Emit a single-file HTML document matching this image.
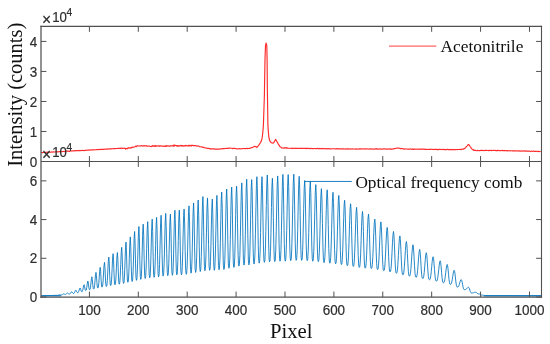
<!DOCTYPE html>
<html><head><meta charset="utf-8"><title>Spectra</title>
<style>
html,body{margin:0;padding:0;background:#fff;}
svg{display:block}
.s{font-family:"Liberation Sans",sans-serif;font-size:13.9px;fill:#2e2e2e;stroke:#2e2e2e;stroke-width:0.2px}
.t{font-family:"Liberation Serif",serif;fill:#111}
</style></head><body>
<svg width="550" height="344" viewBox="0 0 550 344">
<rect width="550" height="344" fill="#fff"/>
<path d="M41.00,152.38 L41.49,152.51 L41.98,152.53 L42.47,152.74 L42.96,152.52 L43.44,152.51 L43.93,152.45 L44.42,152.49 L44.91,152.39 L45.40,152.42 L45.89,152.49 L46.38,152.20 L46.87,152.18 L47.36,152.05 L47.85,152.23 L48.33,152.26 L48.82,152.25 L49.31,152.34 L49.80,152.01 L50.29,152.24 L50.78,152.22 L51.27,152.08 L51.76,151.85 L52.25,151.98 L52.74,152.10 L53.22,152.04 L53.71,151.85 L54.20,151.92 L54.69,151.97 L55.18,151.88 L55.67,151.74 L56.16,151.56 L56.65,151.92 L57.14,151.82 L57.63,151.82 L58.11,151.99 L58.60,151.78 L59.09,151.77 L59.58,151.49 L60.07,151.61 L60.56,151.77 L61.05,151.47 L61.54,151.56 L62.03,151.70 L62.52,151.54 L63.00,151.52 L63.49,151.52 L63.98,151.39 L64.47,151.64 L64.96,151.38 L65.45,151.20 L65.94,151.19 L66.43,151.13 L66.92,151.11 L67.41,151.04 L67.89,151.33 L68.38,151.06 L68.87,151.36 L69.36,151.19 L69.85,151.32 L70.34,150.94 L70.83,150.88 L71.32,151.04 L71.81,150.78 L72.30,151.04 L72.78,150.92 L73.27,150.90 L73.76,151.02 L74.25,150.81 L74.74,150.60 L75.23,150.94 L75.72,150.68 L76.21,150.78 L76.70,150.52 L77.19,150.65 L77.67,150.60 L78.16,150.58 L78.65,150.61 L79.14,150.78 L79.63,150.42 L80.12,150.72 L80.61,150.51 L81.10,150.44 L81.59,150.58 L82.08,150.44 L82.56,150.29 L83.05,150.41 L83.54,150.49 L84.03,150.71 L84.52,150.45 L85.01,150.38 L85.50,150.34 L85.99,150.37 L86.48,150.19 L86.97,150.27 L87.45,150.19 L87.94,150.07 L88.43,150.23 L88.92,150.14 L89.41,149.82 L89.90,149.94 L90.39,150.18 L90.88,150.00 L91.37,149.90 L91.86,149.79 L92.34,149.89 L92.83,149.94 L93.32,149.94 L93.81,149.75 L94.30,149.76 L94.79,149.83 L95.28,149.76 L95.77,149.76 L96.26,149.60 L96.75,149.74 L97.23,149.57 L97.72,149.50 L98.21,149.52 L98.70,149.65 L99.19,149.36 L99.68,149.57 L100.17,149.41 L100.66,149.52 L101.15,149.62 L101.64,149.35 L102.12,149.32 L102.61,149.33 L103.10,149.26 L103.59,149.34 L104.08,149.33 L104.57,149.23 L105.06,148.95 L105.55,149.06 L106.04,149.19 L106.53,149.03 L107.01,149.13 L107.50,149.10 L107.99,148.91 L108.48,149.05 L108.97,149.16 L109.46,149.04 L109.95,148.89 L110.44,148.86 L110.93,148.70 L111.42,148.90 L111.90,148.70 L112.39,148.71 L112.88,148.74 L113.37,148.60 L113.86,148.61 L114.35,148.74 L114.84,148.48 L115.33,148.73 L115.82,148.54 L116.31,148.52 L116.79,148.44 L117.28,148.55 L117.77,148.44 L118.26,148.42 L118.75,148.26 L119.24,148.44 L119.73,148.31 L120.22,148.33 L120.71,148.46 L121.20,147.98 L121.68,148.31 L122.17,148.48 L122.66,148.13 L123.15,148.43 L123.64,148.26 L124.13,148.20 L124.62,148.38 L125.11,148.18 L125.60,149.13 L126.09,148.66 L126.57,148.58 L127.06,148.88 L127.55,148.08 L128.04,147.94 L128.53,148.17 L129.02,147.71 L129.51,148.13 L130.00,148.04 L130.49,147.78 L130.98,148.22 L131.46,147.36 L131.95,147.69 L132.44,147.01 L132.93,147.13 L133.42,147.04 L133.91,147.21 L134.40,147.06 L134.89,146.80 L135.38,146.47 L135.87,146.05 L136.35,146.54 L136.84,145.99 L137.33,145.84 L137.82,145.75 L138.31,146.00 L138.80,146.04 L139.29,146.04 L139.78,145.93 L140.27,145.82 L140.76,146.01 L141.24,145.85 L141.73,145.63 L142.22,145.98 L142.71,146.06 L143.20,145.85 L143.69,145.88 L144.18,145.61 L144.67,145.89 L145.16,145.85 L145.65,146.00 L146.13,145.90 L146.62,145.86 L147.11,146.44 L147.60,145.99 L148.09,145.98 L148.58,145.98 L149.07,146.14 L149.56,146.13 L150.05,146.30 L150.54,146.45 L151.02,146.58 L151.51,146.46 L152.00,145.70 L152.49,145.61 L152.98,146.41 L153.47,145.82 L153.96,145.74 L154.45,146.23 L154.94,146.55 L155.43,145.46 L155.91,146.20 L156.40,146.21 L156.89,145.80 L157.38,146.03 L157.87,146.12 L158.36,145.82 L158.85,145.92 L159.34,146.30 L159.83,145.93 L160.32,146.06 L160.80,145.78 L161.29,146.00 L161.78,146.09 L162.27,146.01 L162.76,146.20 L163.25,145.98 L163.74,146.41 L164.23,146.09 L164.72,146.01 L165.21,146.50 L165.69,145.94 L166.18,146.49 L166.67,145.60 L167.16,145.90 L167.65,145.98 L168.14,145.71 L168.63,145.91 L169.12,146.34 L169.61,146.23 L170.10,145.88 L170.58,145.68 L171.07,145.94 L171.56,145.80 L172.05,146.05 L172.54,145.96 L173.03,145.45 L173.52,146.22 L174.01,144.86 L174.50,145.94 L174.99,145.50 L175.47,145.41 L175.96,145.54 L176.45,146.00 L176.94,145.66 L177.43,145.58 L177.92,146.42 L178.41,145.70 L178.90,145.82 L179.39,146.05 L179.88,145.52 L180.36,145.44 L180.85,145.65 L181.34,145.88 L181.83,145.42 L182.32,146.06 L182.81,145.70 L183.30,146.12 L183.79,145.72 L184.28,145.91 L184.77,145.66 L185.25,146.03 L185.74,145.28 L186.23,145.58 L186.72,145.55 L187.21,145.90 L187.70,146.01 L188.19,146.10 L188.68,145.38 L189.17,145.25 L189.66,146.01 L190.14,145.33 L190.63,145.68 L191.12,146.10 L191.61,145.42 L192.10,145.09 L192.59,145.57 L193.08,145.76 L193.57,145.41 L194.06,145.73 L194.55,145.62 L195.03,145.76 L195.52,145.49 L196.01,145.93 L196.50,145.98 L196.99,145.84 L197.48,146.26 L197.97,145.97 L198.46,146.05 L198.95,146.10 L199.44,146.71 L199.92,146.80 L200.41,146.74 L200.90,146.72 L201.39,146.94 L201.88,146.98 L202.37,147.07 L202.86,147.46 L203.35,147.35 L203.84,147.26 L204.33,147.67 L204.81,147.95 L205.30,147.84 L205.79,147.97 L206.28,147.97 L206.77,148.23 L207.26,148.22 L207.75,148.60 L208.24,148.33 L208.73,148.35 L209.22,148.46 L209.70,148.83 L210.19,148.64 L210.68,149.07 L211.17,148.71 L211.66,148.79 L212.15,148.93 L212.64,148.80 L213.13,148.86 L213.62,148.80 L214.11,148.93 L214.59,148.94 L215.08,149.24 L215.57,149.18 L216.06,149.13 L216.55,149.07 L217.04,149.14 L217.53,148.99 L218.02,149.30 L218.51,149.18 L219.00,149.07 L219.48,149.07 L219.97,148.93 L220.46,149.01 L220.95,148.72 L221.44,148.88 L221.93,148.66 L222.42,148.74 L222.91,148.51 L223.40,148.80 L223.89,148.52 L224.37,148.59 L224.86,148.46 L225.35,148.29 L225.84,148.52 L226.33,148.49 L226.82,148.40 L227.31,148.20 L227.80,148.40 L228.29,148.11 L228.78,148.23 L229.26,148.16 L229.75,148.07 L230.24,148.03 L230.73,148.21 L231.22,148.24 L231.71,148.24 L232.20,148.32 L232.69,148.66 L233.18,148.44 L233.67,148.43 L234.15,148.36 L234.64,148.30 L235.13,148.52 L235.62,148.64 L236.11,148.82 L236.60,148.74 L237.09,148.71 L237.58,148.70 L238.07,149.00 L238.56,148.84 L239.04,148.75 L239.53,148.60 L240.02,148.77 L240.51,148.84 L241.00,148.83 L241.49,148.77 L241.98,148.78 L242.47,148.58 L242.96,148.52 L243.45,148.54 L243.93,148.46 L244.42,148.63 L244.91,148.51 L245.40,148.58 L245.89,148.50 L246.38,148.33 L246.87,148.46 L247.36,148.66 L247.85,148.44 L248.34,148.47 L248.82,148.54 L249.31,148.43 L249.80,148.19 L250.29,148.00 L250.78,148.09 L251.27,147.75 L251.76,147.56 L252.25,147.66 L252.74,147.24 L253.23,146.95 L253.71,146.64 L254.20,146.56 L254.69,146.34 L255.18,146.41 L255.67,146.63 L256.16,146.81 L256.65,147.32 L257.14,147.12 L257.63,146.55 L258.00,146.12 L258.10,146.00 L258.20,145.88 L258.30,145.77 L258.40,145.65 L258.50,145.53 L258.60,145.42 L258.70,145.30 L258.80,145.15 L258.90,145.00 L259.00,144.85 L259.10,144.70 L259.20,144.55 L259.30,144.40 L259.40,144.25 L259.50,144.10 L259.60,143.95 L259.70,143.80 L259.80,143.65 L259.90,143.50 L260.00,143.35 L260.10,143.20 L260.20,143.05 L260.30,142.90 L260.40,142.75 L260.50,142.60 L260.60,142.45 L260.70,142.30 L260.80,142.15 L260.90,142.00 L261.00,141.70 L261.10,141.40 L261.20,141.10 L261.30,140.80 L261.40,140.50 L261.50,140.20 L261.60,139.90 L261.70,139.60 L261.80,139.30 L261.90,139.00 L262.00,138.70 L262.10,138.00 L262.20,137.30 L262.30,136.60 L262.40,135.90 L262.50,135.20 L262.60,134.50 L262.70,133.45 L262.80,132.40 L262.90,131.35 L263.00,130.30 L263.10,128.95 L263.20,127.60 L263.30,126.25 L263.40,124.90 L263.50,121.96 L263.60,119.02 L263.70,116.08 L263.80,113.14 L263.90,110.20 L264.00,107.20 L264.10,104.20 L264.20,101.20 L264.30,98.20 L264.40,95.20 L264.50,88.40 L264.60,82.13 L264.70,76.40 L264.80,70.67 L264.90,64.93 L265.00,59.20 L265.10,56.50 L265.20,53.80 L265.30,51.10 L265.40,48.40 L265.50,45.70 L265.60,45.25 L265.70,44.80 L265.80,44.35 L265.90,43.90 L266.00,43.45 L266.10,43.00 L266.20,43.39 L266.30,43.77 L266.40,44.16 L266.50,44.54 L266.60,44.93 L266.70,45.31 L266.80,45.70 L266.90,50.20 L267.00,54.70 L267.10,59.20 L267.20,72.10 L267.30,85.00 L267.40,91.80 L267.50,98.20 L267.60,104.20 L267.70,110.20 L267.80,117.55 L267.90,124.90 L268.00,126.40 L268.10,127.90 L268.20,129.40 L268.30,130.90 L268.40,132.04 L268.50,133.18 L268.60,134.32 L268.70,135.46 L268.80,136.60 L268.90,137.09 L269.00,137.58 L269.10,138.06 L269.20,138.55 L269.30,139.04 L269.40,139.53 L269.50,140.01 L269.60,140.50 L269.70,140.64 L269.80,140.78 L269.90,140.92 L270.00,141.06 L270.10,141.20 L270.20,141.34 L270.30,141.48 L270.40,141.62 L270.50,141.76 L270.60,141.90 L270.70,142.04 L270.80,142.18 L270.90,142.32 L271.00,142.46 L271.10,142.60 L271.20,142.63 L271.30,142.66 L271.40,142.69 L271.50,142.72 L271.60,142.75 L271.70,142.78 L271.80,142.81 L271.90,142.84 L272.00,142.87 L272.10,142.90 L272.20,142.93 L272.30,142.96 L272.40,142.99 L272.50,143.02 L272.60,143.05 L272.70,143.08 L272.80,143.11 L272.90,143.14 L273.00,143.17 L273.10,143.20 L273.20,143.08 L273.30,142.97 L273.40,142.85 L273.50,142.74 L273.60,142.62 L273.70,142.51 L273.80,142.39 L273.90,142.28 L274.00,142.16 L274.10,142.05 L274.20,141.93 L274.30,141.82 L274.40,141.70 L274.50,141.50 L274.60,141.30 L274.70,141.10 L274.80,140.90 L274.90,140.70 L275.00,140.50 L275.10,140.30 L275.20,140.10 L275.30,139.90 L275.40,139.70 L275.50,139.50 L275.60,139.30 L275.70,139.47 L275.80,139.63 L275.90,139.80 L276.00,139.97 L276.10,140.13 L276.20,140.30 L276.30,140.47 L276.40,140.63 L276.50,140.80 L276.60,140.98 L276.70,141.16 L276.80,141.34 L276.90,141.52 L277.00,141.70 L277.10,141.88 L277.20,142.06 L277.30,142.24 L277.40,142.42 L277.50,142.60 L277.60,142.78 L277.70,142.96 L277.80,143.14 L277.90,143.32 L278.00,143.50 L278.10,143.67 L278.20,143.83 L278.30,144.00 L278.40,144.17 L278.50,144.33 L278.60,144.50 L278.70,144.67 L278.80,144.83 L278.90,145.00 L279.00,145.17 L279.10,145.33 L279.20,145.50 L279.30,145.67 L279.40,145.83 L279.50,146.00 L279.60,146.17 L279.70,146.33 L279.80,146.50 L279.90,146.57 L280.00,146.64 L280.12,146.72 L280.61,147.05 L281.10,147.26 L281.59,147.94 L282.08,147.96 L282.57,148.03 L283.05,148.08 L283.54,148.11 L284.03,147.83 L284.52,148.18 L285.01,147.94 L285.50,147.86 L285.99,147.70 L286.48,148.18 L286.97,147.79 L287.46,148.12 L287.94,148.36 L288.43,148.27 L288.92,148.21 L289.41,148.22 L289.90,148.30 L290.39,148.20 L290.88,148.30 L291.37,148.31 L291.86,148.56 L292.35,148.24 L292.83,148.18 L293.32,148.35 L293.81,148.53 L294.30,148.46 L294.79,148.10 L295.28,148.37 L295.77,148.38 L296.26,148.40 L296.75,148.23 L297.24,148.39 L297.72,148.43 L298.21,148.51 L298.70,148.35 L299.19,148.22 L299.68,148.36 L300.17,148.25 L300.66,148.34 L301.15,148.35 L301.64,148.35 L302.13,148.37 L302.61,148.26 L303.10,148.33 L303.59,148.46 L304.08,148.39 L304.57,148.42 L305.06,148.36 L305.55,148.40 L306.04,148.38 L306.53,148.61 L307.02,148.39 L307.50,148.29 L307.99,148.61 L308.48,148.26 L308.97,148.43 L309.46,148.49 L309.95,148.69 L310.44,148.35 L310.93,148.60 L311.42,148.55 L311.91,148.43 L312.39,148.63 L312.88,148.63 L313.37,148.66 L313.86,148.54 L314.35,148.46 L314.84,148.49 L315.33,148.49 L315.82,148.59 L316.31,148.54 L316.80,148.64 L317.28,148.33 L317.77,148.55 L318.26,148.81 L318.75,148.71 L319.24,148.40 L319.73,148.76 L320.22,148.66 L320.71,148.56 L321.20,148.75 L321.69,148.50 L322.17,148.43 L322.66,148.74 L323.15,148.51 L323.64,148.76 L324.13,148.78 L324.62,148.64 L325.11,148.65 L325.60,148.76 L326.09,148.59 L326.58,148.87 L327.06,148.81 L327.55,148.84 L328.04,148.63 L328.53,148.63 L329.02,148.66 L329.51,148.90 L330.00,148.73 L330.49,148.70 L330.98,148.96 L331.47,148.87 L331.95,148.70 L332.44,148.70 L332.93,148.76 L333.42,148.74 L333.91,148.77 L334.40,148.80 L334.89,148.84 L335.38,148.94 L335.87,148.87 L336.36,148.89 L336.84,148.57 L337.33,148.83 L337.82,148.87 L338.31,148.90 L338.80,148.90 L339.29,148.92 L339.78,148.83 L340.27,148.90 L340.76,148.80 L341.25,148.99 L341.73,148.86 L342.22,148.80 L342.71,149.05 L343.20,148.89 L343.69,148.88 L344.18,148.95 L344.67,148.97 L345.16,149.14 L345.65,148.78 L346.14,149.03 L346.62,149.07 L347.11,148.84 L347.60,149.14 L348.09,148.81 L348.58,148.87 L349.07,148.85 L349.56,148.95 L350.05,149.08 L350.54,149.16 L351.03,148.76 L351.51,148.99 L352.00,149.00 L352.49,148.75 L352.98,149.01 L353.47,148.97 L353.96,148.97 L354.45,148.96 L354.94,149.07 L355.43,149.01 L355.92,148.79 L356.40,148.86 L356.89,149.31 L357.38,149.19 L357.87,148.91 L358.36,148.97 L358.85,149.00 L359.34,148.83 L359.83,149.17 L360.32,148.81 L360.81,148.94 L361.29,148.90 L361.78,148.93 L362.27,148.86 L362.76,149.00 L363.25,149.03 L363.74,148.87 L364.23,148.95 L364.72,149.12 L365.21,148.81 L365.70,148.83 L366.18,148.80 L366.67,148.97 L367.16,148.94 L367.65,149.03 L368.14,149.10 L368.63,148.97 L369.12,148.96 L369.61,149.06 L370.10,148.77 L370.59,149.18 L371.07,149.09 L371.56,149.07 L372.05,148.84 L372.54,149.02 L373.03,149.03 L373.52,149.10 L374.01,149.09 L374.50,149.16 L374.99,148.88 L375.48,148.93 L375.96,148.88 L376.45,149.08 L376.94,148.71 L377.43,149.13 L377.92,149.26 L378.41,149.05 L378.90,149.00 L379.39,148.92 L379.88,149.14 L380.37,148.95 L380.85,148.81 L381.34,149.12 L381.83,149.11 L382.32,149.23 L382.81,148.99 L383.30,148.92 L383.79,148.93 L384.28,148.93 L384.77,148.86 L385.26,149.02 L385.74,148.92 L386.23,149.15 L386.72,149.13 L387.21,149.01 L387.70,149.14 L388.19,148.97 L388.68,148.88 L389.17,148.99 L389.66,149.13 L390.15,149.13 L390.63,148.88 L391.12,149.14 L391.61,149.04 L392.10,149.07 L392.59,148.95 L393.08,148.76 L393.57,148.88 L394.06,148.91 L394.55,148.49 L395.04,148.57 L395.52,148.43 L396.01,148.45 L396.50,148.24 L396.99,148.08 L397.48,147.95 L397.97,148.04 L398.46,148.15 L398.95,148.17 L399.44,148.30 L399.93,148.37 L400.41,148.60 L400.90,148.86 L401.39,148.60 L401.88,148.64 L402.37,148.73 L402.86,148.68 L403.35,148.85 L403.84,149.07 L404.33,148.94 L404.82,149.07 L405.30,148.91 L405.79,149.04 L406.28,149.02 L406.77,149.05 L407.26,149.08 L407.75,149.27 L408.24,149.09 L408.73,149.38 L409.22,149.05 L409.71,149.00 L410.19,148.88 L410.68,149.08 L411.17,149.22 L411.66,149.33 L412.15,148.91 L412.64,149.32 L413.13,149.05 L413.62,149.44 L414.11,149.17 L414.60,149.09 L415.08,149.14 L415.57,149.19 L416.06,149.29 L416.55,149.30 L417.04,149.08 L417.53,149.15 L418.02,149.23 L418.51,149.19 L419.00,149.33 L419.49,149.11 L419.97,149.08 L420.46,149.33 L420.95,149.23 L421.44,149.13 L421.93,149.33 L422.42,149.02 L422.91,149.09 L423.40,149.31 L423.89,149.16 L424.38,149.09 L424.86,149.44 L425.35,149.22 L425.84,149.32 L426.33,149.33 L426.82,149.23 L427.31,149.38 L427.80,149.49 L428.29,149.50 L428.78,149.34 L429.27,149.27 L429.75,149.35 L430.24,149.37 L430.73,149.36 L431.22,149.21 L431.71,149.31 L432.20,149.47 L432.69,149.42 L433.18,149.24 L433.67,149.46 L434.16,149.45 L434.64,149.41 L435.13,149.54 L435.62,149.31 L436.11,149.69 L436.60,149.26 L437.09,149.49 L437.58,149.59 L438.07,149.41 L438.56,149.66 L439.05,149.39 L439.53,149.37 L440.02,149.54 L440.51,149.52 L441.00,149.37 L441.49,149.57 L441.98,149.49 L442.47,149.46 L442.96,149.32 L443.45,149.57 L443.94,149.51 L444.42,149.39 L444.91,149.84 L445.40,149.57 L445.89,149.77 L446.38,149.77 L446.87,149.32 L447.36,149.53 L447.85,149.39 L448.34,149.60 L448.83,149.51 L449.31,149.63 L449.80,149.65 L450.29,149.60 L450.78,149.58 L451.27,149.42 L451.76,149.63 L452.25,149.57 L452.74,149.65 L453.23,149.61 L453.72,149.79 L454.20,149.51 L454.69,149.71 L455.18,149.64 L455.67,149.66 L456.16,149.51 L456.65,149.55 L457.14,149.60 L457.63,149.57 L458.12,149.54 L458.61,149.48 L459.09,149.50 L459.58,149.39 L460.07,149.34 L460.56,149.45 L461.05,149.68 L461.54,149.30 L462.03,149.16 L462.52,149.27 L463.01,149.10 L463.50,149.11 L463.98,148.59 L464.47,148.62 L464.96,148.09 L465.45,148.05 L465.94,147.16 L466.43,146.50 L466.92,146.05 L467.41,145.56 L467.90,144.91 L468.39,144.48 L468.87,144.63 L469.36,145.29 L469.85,146.06 L470.34,146.77 L470.83,147.44 L471.32,148.36 L471.81,148.81 L472.30,149.29 L472.79,149.46 L473.28,150.09 L473.76,149.94 L474.25,150.53 L474.74,150.38 L475.23,150.57 L475.72,150.37 L476.21,150.52 L476.70,150.70 L477.19,150.61 L477.68,150.37 L478.17,150.53 L478.65,150.46 L479.14,150.70 L479.63,150.69 L480.12,150.44 L480.61,150.23 L481.10,150.56 L481.59,150.42 L482.08,150.60 L482.57,150.33 L483.06,150.53 L483.54,150.52 L484.03,150.69 L484.52,150.51 L485.01,150.43 L485.50,150.29 L485.99,150.59 L486.48,150.32 L486.97,150.48 L487.46,150.47 L487.95,150.54 L488.43,150.63 L488.92,150.56 L489.41,150.22 L489.90,150.55 L490.39,150.46 L490.88,150.29 L491.37,150.68 L491.86,150.38 L492.35,150.50 L492.84,150.43 L493.32,150.35 L493.81,150.48 L494.30,150.49 L494.79,150.39 L495.28,150.41 L495.77,150.58 L496.26,150.52 L496.75,150.67 L497.24,150.36 L497.73,150.67 L498.21,150.51 L498.70,150.33 L499.19,150.45 L499.68,150.59 L500.17,150.65 L500.66,150.64 L501.15,150.46 L501.64,150.54 L502.13,150.59 L502.62,150.28 L503.10,150.70 L503.59,150.67 L504.08,150.66 L504.57,150.60 L505.06,150.59 L505.55,150.67 L506.04,150.56 L506.53,150.59 L507.02,150.70 L507.51,150.96 L507.99,150.58 L508.48,150.80 L508.97,150.77 L509.46,150.72 L509.95,150.85 L510.44,150.81 L510.93,150.72 L511.42,150.78 L511.91,150.72 L512.40,150.87 L512.88,150.81 L513.37,150.92 L513.86,150.84 L514.35,150.78 L514.84,150.86 L515.33,151.01 L515.82,150.87 L516.31,150.84 L516.80,150.74 L517.29,150.89 L517.77,150.95 L518.26,151.05 L518.75,150.68 L519.24,151.05 L519.73,151.08 L520.22,150.97 L520.71,151.19 L521.20,150.85 L521.69,150.97 L522.18,150.94 L522.66,151.13 L523.15,151.09 L523.64,150.93 L524.13,150.94 L524.62,150.72 L525.11,150.94 L525.60,151.31 L526.09,151.08 L526.58,151.15 L527.07,150.99 L527.55,151.14 L528.04,151.08 L528.53,151.19 L529.02,151.09 L529.51,151.00 L530.00,151.26 L530.49,151.44 L530.98,151.34 L531.47,151.04 L531.96,151.21 L532.44,151.28 L532.93,151.37 L533.42,151.14 L533.91,151.25 L534.40,151.31 L534.89,151.37 L535.38,151.34 L535.87,151.37 L536.36,151.27 L536.85,151.20 L537.33,151.60 L537.82,151.55 L538.31,151.40 L538.80,151.39 L539.29,151.60 L539.78,151.50 L540.27,151.48 L540.76,151.50" fill="none" stroke="#ff2a2a" stroke-width="1.15" stroke-linejoin="round"/>
<path d="M41.00,295.63 L41.50,295.63 L42.00,295.63 L42.50,295.63 L43.00,295.63 L43.50,295.62 L44.00,295.62 L44.50,295.61 L45.00,295.60 L45.50,295.59 L46.00,295.58 L46.50,295.57 L47.00,295.56 L47.50,295.55 L48.00,295.55 L48.50,295.54 L49.00,295.54 L49.50,295.54 L50.00,295.54 L50.50,295.53 L51.00,295.52 L51.50,295.51 L52.00,295.49 L52.50,295.47 L53.00,295.44 L53.50,295.41 L54.00,295.38 L54.50,295.36 L55.00,295.35 L55.50,295.34 L55.94,295.34 L56.38,295.34 L56.81,295.34 L57.25,295.34 L57.72,295.32 L58.19,295.24 L58.66,295.08 L59.13,294.93 L59.60,294.86 L60.04,294.88 L60.48,294.93 L60.91,294.96 L61.35,294.97 L61.82,294.94 L62.29,294.75 L62.76,294.40 L63.23,294.05 L63.70,293.90 L64.23,294.08 L64.77,294.34 L65.30,294.41 L65.85,294.33 L66.40,293.92 L66.95,293.32 L67.50,293.03 L67.95,293.24 L68.40,293.66 L68.85,293.96 L69.30,294.01 L69.78,293.94 L70.26,293.54 L70.74,292.78 L71.22,292.00 L71.70,291.68 L72.14,292.05 L72.58,292.82 L73.01,293.35 L73.45,293.45 L73.92,293.35 L74.39,292.78 L74.86,291.69 L75.33,290.60 L75.80,290.13 L76.26,290.67 L76.72,291.77 L77.19,292.53 L77.65,292.67 L78.14,292.53 L78.63,291.72 L79.12,290.20 L79.61,288.66 L80.10,288.01 L80.67,289.32 L81.23,291.28 L81.80,291.74 L82.26,291.54 L82.72,290.32 L83.18,288.03 L83.64,285.71 L84.10,284.73 L84.63,286.80 L85.17,289.90 L85.70,290.64 L86.25,290.10 L86.80,287.25 L87.35,283.09 L87.90,281.07 L88.47,284.13 L89.03,288.72 L89.60,289.81 L90.06,289.43 L90.52,287.17 L90.98,282.93 L91.44,278.64 L91.90,276.82 L92.34,279.43 L92.78,284.78 L93.21,288.44 L93.65,289.13 L94.12,288.64 L94.59,285.73 L95.06,280.27 L95.53,274.73 L96.00,272.39 L96.45,275.71 L96.90,282.55 L97.35,287.23 L97.80,288.11 L98.28,287.50 L98.76,283.90 L99.24,277.13 L99.72,270.27 L100.20,267.37 L100.66,271.54 L101.12,280.13 L101.59,286.00 L102.05,287.11 L102.54,286.38 L103.03,282.08 L103.52,274.00 L104.01,265.82 L104.50,262.36 L104.96,267.46 L105.43,277.97 L105.89,285.15 L106.35,286.50 L106.84,285.64 L107.33,280.54 L107.82,270.96 L108.31,261.25 L108.80,257.15 L109.26,263.16 L109.72,275.52 L110.19,283.97 L110.65,285.56 L111.14,284.62 L111.63,279.09 L112.12,268.68 L112.61,258.13 L113.10,253.68 L113.56,260.26 L114.03,273.79 L114.49,283.05 L114.95,284.79 L115.44,283.84 L115.93,278.24 L116.42,267.70 L116.91,257.03 L117.40,252.52 L117.86,259.22 L118.33,273.00 L118.79,282.43 L119.25,284.20 L119.74,283.11 L120.23,276.71 L120.72,264.67 L121.21,252.47 L121.70,247.31 L122.16,254.95 L122.62,270.66 L123.09,281.40 L123.55,283.43 L124.04,282.21 L124.53,275.04 L125.02,261.55 L125.51,247.88 L126.00,242.10 L126.46,250.59 L126.93,268.07 L127.39,280.02 L127.85,282.27 L128.34,280.93 L128.83,273.05 L129.32,258.24 L129.81,243.24 L130.30,236.89 L130.76,246.32 L131.22,265.73 L131.69,279.00 L132.15,281.50 L132.64,280.02 L133.13,271.34 L133.62,255.02 L134.11,238.48 L134.60,231.49 L135.06,241.82 L135.52,263.07 L135.99,277.60 L136.45,280.34 L136.94,278.75 L137.43,269.40 L137.92,251.82 L138.41,234.00 L138.90,226.48 L139.36,237.66 L139.82,260.68 L140.29,276.42 L140.75,279.39 L141.24,277.76 L141.73,268.17 L142.22,250.15 L142.71,231.88 L143.20,224.16 L143.69,235.65 L144.17,259.30 L144.66,275.47 L145.15,278.51 L145.66,276.84 L146.17,266.97 L146.68,248.41 L147.19,229.60 L147.70,221.65 L148.19,233.53 L148.67,257.96 L149.16,274.66 L149.65,277.81 L150.16,276.08 L150.67,265.90 L151.18,246.75 L151.69,227.35 L152.20,219.15 L152.67,231.45 L153.15,256.76 L153.62,274.07 L154.10,277.33 L154.60,275.56 L155.10,265.16 L155.60,245.60 L156.10,225.79 L156.60,217.41 L157.09,229.98 L157.57,255.84 L158.06,273.52 L158.55,276.85 L159.06,275.03 L159.57,264.35 L160.08,244.25 L160.59,223.89 L161.10,215.29 L161.60,228.15 L162.10,254.60 L162.60,272.69 L163.10,276.10 L163.62,274.25 L164.14,263.36 L164.66,242.88 L165.18,222.13 L165.70,213.36 L166.21,226.54 L166.72,253.65 L167.24,272.19 L167.75,275.69 L168.28,273.87 L168.81,263.19 L169.34,243.09 L169.87,222.73 L170.40,214.13 L170.89,227.06 L171.38,253.67 L171.86,271.87 L172.35,275.29 L172.86,273.38 L173.37,262.09 L173.88,240.87 L174.39,219.36 L174.90,210.27 L175.38,223.92 L175.85,252.01 L176.33,271.22 L176.80,274.84 L177.30,272.93 L177.80,261.69 L178.30,240.55 L178.80,219.13 L179.30,210.08 L179.82,223.76 L180.35,251.92 L180.88,271.17 L181.40,274.80 L181.85,273.66 L182.30,266.59 L182.75,251.58 L183.20,232.14 L183.65,215.60 L184.10,209.12 L184.64,222.90 L185.18,251.27 L185.71,270.67 L186.25,274.32 L186.71,273.13 L187.17,265.76 L187.62,250.11 L188.08,229.84 L188.54,212.60 L189.00,205.84 L189.50,220.08 L190.00,249.37 L190.50,269.41 L191.00,273.18 L191.52,271.11 L192.04,258.92 L192.56,235.99 L193.08,212.76 L193.60,202.94 L194.10,217.64 L194.60,247.87 L195.10,268.54 L195.60,272.44 L196.12,270.30 L196.64,257.74 L197.16,234.11 L197.68,210.17 L198.20,200.05 L198.71,215.15 L199.22,246.24 L199.74,267.49 L200.25,271.49 L200.78,269.28 L201.31,256.28 L201.84,231.83 L202.37,207.05 L202.90,196.58 L203.40,212.25 L203.90,244.48 L204.40,266.53 L204.90,270.69 L205.42,268.54 L205.94,255.91 L206.46,232.16 L206.98,208.10 L207.50,197.93 L208.03,213.23 L208.55,244.70 L209.07,266.23 L209.60,270.28 L210.05,269.05 L210.50,261.38 L210.95,245.11 L211.40,224.04 L211.85,206.12 L212.30,199.09 L212.80,214.13 L213.30,245.10 L213.80,266.28 L214.30,270.27 L214.82,268.06 L215.34,255.07 L215.86,230.63 L216.38,205.88 L216.90,195.42 L217.43,211.15 L217.95,243.52 L218.47,265.65 L219.00,269.82 L219.45,268.48 L219.90,260.11 L220.35,242.36 L220.80,219.37 L221.25,199.81 L221.70,192.14 L222.25,208.50 L222.80,242.16 L223.35,265.18 L223.90,269.51 L224.37,268.12 L224.83,259.45 L225.30,241.07 L225.77,217.25 L226.23,197.00 L226.70,189.05 L227.25,205.79 L227.80,240.23 L228.35,263.79 L228.90,268.22 L229.37,266.82 L229.83,258.09 L230.30,239.55 L230.77,215.55 L231.23,195.14 L231.70,187.13 L232.24,204.10 L232.77,239.03 L233.31,262.91 L233.85,267.41 L234.31,266.00 L234.77,257.26 L235.22,238.69 L235.68,214.64 L236.14,194.19 L236.60,186.16 L237.06,197.33 L237.52,223.76 L237.98,249.85 L238.44,263.72 L238.90,266.08 L239.38,264.63 L239.87,255.68 L240.35,236.66 L240.83,212.04 L241.32,191.10 L241.80,182.88 L242.34,200.26 L242.88,236.02 L243.41,260.48 L243.95,265.09 L244.41,263.60 L244.87,254.35 L245.32,234.73 L245.78,209.31 L246.24,187.70 L246.70,179.22 L247.25,197.33 L247.80,234.59 L248.35,260.08 L248.90,264.88 L249.37,263.40 L249.83,254.22 L250.30,234.73 L250.77,209.49 L251.23,188.03 L251.70,179.60 L252.16,191.40 L252.62,219.33 L253.08,246.89 L253.54,261.54 L254.00,264.03 L254.48,262.52 L254.97,253.12 L255.45,233.16 L255.93,207.31 L256.42,185.33 L256.90,176.71 L257.35,188.79 L257.80,217.38 L258.25,245.60 L258.70,260.60 L259.15,263.15 L259.62,261.66 L260.10,252.35 L260.57,232.59 L261.05,207.01 L261.52,185.25 L262.00,176.71 L262.47,188.68 L262.94,217.02 L263.41,244.98 L263.88,259.85 L264.35,262.38 L264.84,260.86 L265.33,251.45 L265.82,231.48 L266.32,205.61 L266.81,183.61 L267.30,174.97 L267.75,187.11 L268.20,215.82 L268.65,244.15 L269.10,259.22 L269.55,261.78 L270.02,260.34 L270.50,251.34 L270.98,232.25 L271.45,207.53 L271.92,186.50 L272.40,178.25 L272.87,189.90 L273.34,217.46 L273.81,244.67 L274.28,259.13 L274.75,261.59 L275.24,260.11 L275.73,250.88 L276.22,231.31 L276.72,205.96 L277.21,184.40 L277.70,175.94 L278.16,187.85 L278.62,216.06 L279.08,243.89 L279.54,258.69 L280.00,261.21 L280.48,259.70 L280.97,250.36 L281.45,230.51 L281.93,204.82 L282.42,182.97 L282.90,174.39 L283.37,186.53 L283.84,215.24 L284.31,243.57 L284.78,258.64 L285.25,261.20 L285.74,259.70 L286.23,250.37 L286.72,230.58 L287.22,204.94 L287.71,183.14 L288.20,174.59 L288.70,186.61 L289.20,215.07 L289.70,243.16 L290.20,258.09 L290.70,260.63 L291.22,259.13 L291.73,249.83 L292.25,230.07 L292.77,204.49 L293.28,182.74 L293.80,174.20 L294.28,186.24 L294.76,214.72 L295.24,242.84 L295.72,257.79 L296.20,260.33 L296.70,258.87 L297.20,249.83 L297.70,230.63 L298.20,205.77 L298.70,184.62 L299.20,176.32 L299.69,188.07 L300.18,215.85 L300.67,243.28 L301.16,257.86 L301.65,260.34 L302.16,258.96 L302.67,250.37 L303.17,232.14 L303.68,208.53 L304.19,188.45 L304.70,180.57 L305.20,191.76 L305.70,218.24 L306.20,244.38 L306.70,258.28 L307.20,260.64 L307.72,259.27 L308.23,250.73 L308.75,232.60 L309.27,209.13 L309.78,189.17 L310.30,181.34 L310.79,192.50 L311.28,218.92 L311.77,245.00 L312.26,258.86 L312.75,261.22 L313.26,259.89 L313.77,251.64 L314.27,234.13 L314.78,211.46 L315.29,192.18 L315.80,184.62 L316.30,195.38 L316.80,220.85 L317.30,245.98 L317.80,259.35 L318.30,261.62 L318.82,260.36 L319.33,252.50 L319.85,235.83 L320.37,214.24 L320.88,195.88 L321.40,188.67 L321.92,199.01 L322.44,223.48 L322.96,247.64 L323.48,260.48 L324.00,262.66 L324.46,261.86 L324.91,256.71 L325.37,245.01 L325.83,227.85 L326.29,209.39 L326.74,195.17 L327.20,189.83 L327.72,200.08 L328.24,224.33 L328.76,248.27 L329.28,261.00 L329.80,263.17 L330.26,262.39 L330.71,257.38 L331.17,246.00 L331.63,229.32 L332.09,211.36 L332.54,197.53 L333.00,192.33 L333.52,202.32 L334.04,225.94 L334.56,249.26 L335.08,261.65 L335.60,263.76 L336.06,263.01 L336.51,258.18 L336.97,247.20 L337.43,231.10 L337.89,213.78 L338.34,200.43 L338.80,195.42 L339.32,205.08 L339.84,227.95 L340.36,250.52 L340.88,262.52 L341.40,264.56 L341.86,263.85 L342.31,259.31 L342.77,248.97 L343.23,233.82 L343.69,217.52 L344.14,204.96 L344.60,200.24 L345.05,206.71 L345.50,223.18 L345.95,242.56 L346.40,257.52 L346.85,264.57 L347.30,265.70 L347.77,265.02 L348.24,260.64 L348.71,250.68 L349.19,236.08 L349.66,220.37 L350.13,208.26 L350.60,203.72 L351.05,209.92 L351.50,225.72 L351.95,244.30 L352.40,258.64 L352.85,265.40 L353.30,266.49 L353.77,265.84 L354.24,261.66 L354.71,252.16 L355.19,238.24 L355.66,223.26 L356.13,211.72 L356.60,207.38 L357.13,215.77 L357.66,235.64 L358.19,255.24 L358.72,265.67 L359.25,267.44 L359.71,266.82 L360.18,262.87 L360.64,253.87 L361.11,240.67 L361.57,226.48 L362.04,215.54 L362.50,211.43 L362.95,217.03 L363.40,231.31 L363.85,248.10 L364.30,261.07 L364.75,267.18 L365.20,268.16 L365.67,267.57 L366.14,263.75 L366.61,255.07 L367.09,242.34 L367.56,228.65 L368.03,218.09 L368.50,214.13 L368.98,219.51 L369.45,233.21 L369.92,249.32 L370.40,261.76 L370.88,267.63 L371.35,268.57 L371.84,268.02 L372.34,264.53 L372.83,256.59 L373.32,244.95 L373.81,232.42 L374.31,222.77 L374.80,219.15 L375.26,224.13 L375.72,236.82 L376.18,251.74 L376.63,263.26 L377.09,268.68 L377.55,269.56 L378.03,269.03 L378.51,265.66 L378.99,257.99 L379.46,246.76 L379.94,234.66 L380.42,225.35 L380.90,221.85 L381.38,226.67 L381.85,238.97 L382.32,253.43 L382.80,264.59 L383.27,269.85 L383.75,270.70 L384.24,270.22 L384.74,267.16 L385.23,260.21 L385.72,250.03 L386.21,239.06 L386.71,230.61 L387.20,227.44 L387.68,231.83 L388.15,243.01 L388.62,256.16 L389.10,266.31 L389.57,271.09 L390.05,271.86 L390.54,271.42 L391.04,268.56 L391.53,262.08 L392.02,252.57 L392.51,242.34 L393.01,234.45 L393.50,231.49 L393.98,235.62 L394.47,246.12 L394.95,258.48 L395.43,268.02 L395.92,272.51 L396.40,273.23 L396.90,272.82 L397.40,270.19 L397.90,264.19 L398.40,255.41 L398.90,245.95 L399.40,238.67 L399.90,235.93 L400.39,239.77 L400.88,249.57 L401.38,261.09 L401.87,269.98 L402.36,274.17 L402.85,274.85 L403.36,274.48 L403.86,272.12 L404.37,266.77 L404.88,258.92 L405.39,250.48 L405.89,243.97 L406.40,241.52 L406.90,244.94 L407.40,253.64 L407.90,263.87 L408.40,271.77 L408.90,275.49 L409.40,276.09 L409.91,275.75 L410.43,273.53 L410.94,268.51 L411.46,261.14 L411.97,253.21 L412.49,247.10 L413.00,244.80 L413.51,248.02 L414.02,256.20 L414.52,265.83 L415.03,273.27 L415.54,276.77 L416.05,277.33 L416.57,277.03 L417.09,275.05 L417.61,270.57 L418.14,264.00 L418.66,256.93 L419.18,251.48 L419.70,249.43 L420.20,252.30 L420.70,259.62 L421.20,268.22 L421.70,274.87 L422.20,278.00 L422.70,278.50 L423.21,278.22 L423.73,276.39 L424.24,272.25 L424.76,266.18 L425.27,259.64 L425.79,254.60 L426.30,252.71 L426.82,255.38 L427.33,262.18 L427.85,270.18 L428.37,276.36 L428.88,279.27 L429.40,279.74 L429.86,279.57 L430.33,278.45 L430.79,275.80 L431.25,271.61 L431.71,266.53 L432.18,261.62 L432.64,258.06 L433.10,256.76 L433.56,258.54 L434.03,263.29 L434.49,269.45 L434.96,275.17 L435.42,279.07 L435.89,280.79 L436.35,281.06 L436.83,280.91 L437.31,279.92 L437.79,277.59 L438.27,273.90 L438.76,269.42 L439.24,265.09 L439.72,261.96 L440.20,260.81 L440.66,262.42 L441.11,266.71 L441.57,272.27 L442.03,277.44 L442.49,280.96 L442.94,282.51 L443.40,282.76 L443.88,282.62 L444.35,281.73 L444.82,279.62 L445.30,276.29 L445.77,272.25 L446.25,268.34 L446.72,265.51 L447.20,264.48 L447.66,265.93 L448.11,269.80 L448.57,274.83 L449.03,279.50 L449.49,282.68 L449.94,284.08 L450.40,284.30 L450.88,284.20 L451.35,283.52 L451.82,281.90 L452.30,279.34 L452.77,276.23 L453.25,273.23 L453.72,271.06 L454.20,270.27 L454.66,271.50 L455.11,274.79 L455.57,279.06 L456.03,283.03 L456.49,285.74 L456.94,286.93 L457.40,287.12 L457.88,287.06 L458.35,286.69 L458.82,285.82 L459.30,284.43 L459.77,282.75 L460.25,281.13 L460.72,279.95 L461.20,279.52 L461.68,280.27 L462.16,282.25 L462.64,284.82 L463.11,287.20 L463.59,288.83 L464.07,289.55 L464.55,289.66 L465.04,289.64 L465.54,289.52 L466.03,289.25 L466.52,288.80 L467.02,288.27 L467.51,287.75 L468.01,287.38 L468.50,287.24 L468.96,287.66 L469.43,288.78 L469.89,290.23 L470.36,291.57 L470.82,292.49 L471.29,292.90 L471.75,292.96 L472.23,292.95 L472.71,292.92 L473.19,292.84 L473.68,292.71 L474.16,292.55 L474.64,292.40 L475.12,292.30 L475.60,292.26 L476.11,292.38 L476.63,292.72 L477.14,293.16 L477.66,293.57 L478.17,293.85 L478.69,293.97 L479.20,293.99 L479.67,294.08 L480.14,294.30 L480.61,294.60 L481.09,294.87 L481.56,295.06 L482.03,295.14 L482.50,295.15 L483.00,295.19 L483.50,295.28 L484.00,295.40 L484.50,295.52 L485.00,295.59 L485.50,295.63 L486.00,295.63 L486.49,295.63 L486.98,295.63 L487.47,295.63 L487.95,295.63 L488.44,295.63 L488.93,295.63 L489.42,295.63 L489.91,295.63 L490.40,295.63 L490.88,295.63 L491.37,295.64 L491.86,295.64 L492.35,295.64 L492.84,295.64 L493.33,295.64 L493.82,295.64 L494.30,295.64 L494.79,295.64 L495.28,295.64 L495.77,295.64 L496.26,295.64 L496.75,295.64 L497.24,295.65 L497.72,295.65 L498.21,295.65 L498.70,295.65 L499.19,295.65 L499.68,295.65 L500.17,295.65 L500.65,295.65 L501.14,295.66 L501.63,295.66 L502.12,295.66 L502.61,295.66 L503.10,295.66 L503.59,295.66 L504.07,295.66 L504.56,295.67 L505.05,295.67 L505.54,295.67 L506.03,295.67 L506.52,295.67 L507.01,295.67 L507.49,295.68 L507.98,295.68 L508.47,295.68 L508.96,295.68 L509.45,295.68 L509.94,295.68 L510.42,295.68 L510.91,295.69 L511.40,295.69 L511.89,295.69 L512.38,295.69 L512.87,295.69 L513.36,295.69 L513.84,295.70 L514.33,295.70 L514.82,295.70 L515.31,295.70 L515.80,295.70 L516.29,295.70 L516.78,295.70 L517.26,295.70 L517.75,295.71 L518.24,295.71 L518.73,295.71 L519.22,295.71 L519.71,295.71 L520.19,295.71 L520.68,295.71 L521.17,295.71 L521.66,295.71 L522.15,295.72 L522.64,295.72 L523.13,295.72 L523.61,295.72 L524.10,295.72 L524.59,295.72 L525.08,295.72 L525.57,295.72 L526.06,295.72 L526.55,295.72 L527.03,295.72 L527.52,295.72 L528.01,295.72 L528.50,295.72 L528.99,295.72 L529.48,295.73 L529.96,295.73 L530.45,295.73 L530.94,295.73 L531.43,295.73 L531.92,295.73 L532.41,295.73 L532.90,295.73 L533.38,295.73 L533.87,295.73 L534.36,295.73 L534.85,295.73 L535.34,295.73 L535.83,295.73 L536.32,295.73 L536.80,295.73 L537.29,295.73 L537.78,295.73 L538.27,295.73 L538.76,295.73 L539.25,295.73 L539.73,295.73 L540.22,295.73 L540.71,295.73 L541.20,295.73" fill="none" stroke="#0072BD" stroke-width="0.85" stroke-linejoin="miter" stroke-miterlimit="3"/>
<path d="M41.5,295.75H61M484,295.75H541" fill="none" stroke="#0072BD" stroke-width="1.5" stroke-opacity="0.75"/>
<g fill="none" stroke="#505050" stroke-linecap="square">
<path d="M41.0,26.4V297.0" stroke-width="1.25"/>
<path d="M41.0,297.0H541.5" stroke-width="1.25"/>
<path d="M41.0,26.4H541.5" stroke-width="1.1"/>
<path d="M541.5,26.4V297.0" stroke-width="1.1"/>
</g>
<g fill="none" stroke="#505050" stroke-width="1">
<path d="M41.0,161.5H541.5"/>
<path d="M89.41,26.4v5.4M89.41,156.1v10.8M89.41,297.0v-5.4M138.30,26.4v5.4M138.30,156.1v10.8M138.30,297.0v-5.4M187.20,26.4v5.4M187.20,156.1v10.8M187.20,297.0v-5.4M236.09,26.4v5.4M236.09,156.1v10.8M236.09,297.0v-5.4M284.99,26.4v5.4M284.99,156.1v10.8M284.99,297.0v-5.4M333.88,26.4v5.4M333.88,156.1v10.8M333.88,297.0v-5.4M382.78,26.4v5.4M382.78,156.1v10.8M382.78,297.0v-5.4M431.67,26.4v5.4M431.67,156.1v10.8M431.67,297.0v-5.4M480.57,26.4v5.4M480.57,156.1v10.8M480.57,297.0v-5.4M529.47,26.4v5.4M529.47,156.1v10.8M529.47,297.0v-5.4M41.0,161.50h5.4M541.5,161.50h-5.4M41.0,131.48h5.4M541.5,131.48h-5.4M41.0,101.46h5.4M541.5,101.46h-5.4M41.0,71.43h5.4M541.5,71.43h-5.4M41.0,41.41h5.4M541.5,41.41h-5.4M41.0,297.00h5.4M541.5,297.00h-5.4M41.0,258.29h5.4M541.5,258.29h-5.4M41.0,219.57h5.4M541.5,219.57h-5.4M41.0,180.86h5.4M541.5,180.86h-5.4"/>
</g>
<g class="s">
<text x="42.0" y="24.8" font-size="15.6">×</text><text transform="translate(52.2,22.1) scale(0.93,1)" font-size="14.2">10</text><text transform="translate(66.4,15.9) scale(0.96,1)" font-size="10.6">4</text>
<text x="42.0" y="160.0" font-size="15.6">×</text><text transform="translate(52.2,157.3) scale(0.93,1)" font-size="14.2">10</text><text transform="translate(66.4,151.1) scale(0.96,1)" font-size="10.6">4</text>
</g>
<g class="s">
<text transform="translate(89.41,314.70) scale(0.97,1)" text-anchor="middle">100</text>
<text transform="translate(138.30,314.70) scale(0.97,1)" text-anchor="middle">200</text>
<text transform="translate(187.20,314.70) scale(0.97,1)" text-anchor="middle">300</text>
<text transform="translate(236.09,314.70) scale(0.97,1)" text-anchor="middle">400</text>
<text transform="translate(284.99,314.70) scale(0.97,1)" text-anchor="middle">500</text>
<text transform="translate(333.88,314.70) scale(0.97,1)" text-anchor="middle">600</text>
<text transform="translate(382.78,314.70) scale(0.97,1)" text-anchor="middle">700</text>
<text transform="translate(431.67,314.70) scale(0.97,1)" text-anchor="middle">800</text>
<text transform="translate(480.57,314.70) scale(0.97,1)" text-anchor="middle">900</text>
<text transform="translate(529.47,314.70) scale(0.97,1)" text-anchor="middle">1000</text>
<text transform="translate(37.30,166.60) scale(0.97,1)" text-anchor="end">0</text>
<text transform="translate(37.30,136.58) scale(0.97,1)" text-anchor="end">1</text>
<text transform="translate(37.30,106.56) scale(0.97,1)" text-anchor="end">2</text>
<text transform="translate(37.30,76.53) scale(0.97,1)" text-anchor="end">3</text>
<text transform="translate(37.30,46.51) scale(0.97,1)" text-anchor="end">4</text>
<text transform="translate(37.30,263.39) scale(0.97,1)" text-anchor="end">2</text>
<text transform="translate(37.30,224.67) scale(0.97,1)" text-anchor="end">4</text>
<text transform="translate(37.30,185.96) scale(0.97,1)" text-anchor="end">6</text>
<text transform="translate(37.30,302.10) scale(0.97,1)" text-anchor="end">0</text>
</g>
<path d="M389,46.1H436.3" stroke="#ff2a2a" stroke-width="0.9"/>
<path d="M304.4,181.45H351.8" stroke="#0072BD" stroke-width="0.9"/>
<g class="t">
<text x="440.5" y="51.7" font-size="17.35">Acetonitrile</text>
<text x="355.4" y="187.9" font-size="17.3">Optical frequency comb</text>
<text x="291.2" y="337.7" font-size="20.7" text-anchor="middle">Pixel</text>
<text transform="translate(22.4,94.7) rotate(-90)" font-size="20.5" text-anchor="middle">Intensity (counts)</text>
</g>
</svg>
</body></html>
